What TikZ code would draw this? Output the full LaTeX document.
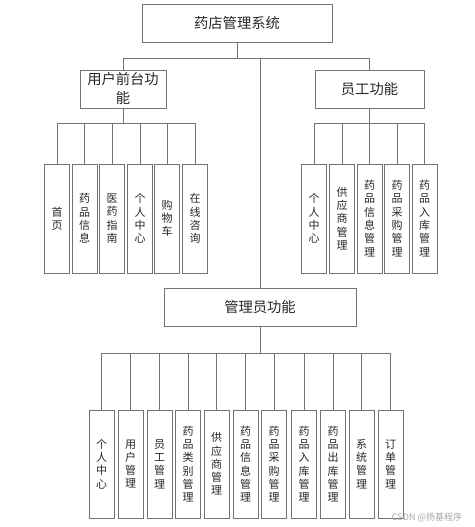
\documentclass[tikz,border=0pt]{standalone}
\usepackage{fontspec}
\setmainfont{Noto Sans CJK SC}
\begin{document}
\begin{tikzpicture}[x=1pt,y=1pt,
  line/.style={draw=black!55, line width=0.9pt},
  tbox/.style={draw=black!55, line width=0.9pt, minimum height=38pt, inner sep=0pt, align=center, font=\fontsize{14.3}{19}\selectfont, text=black!85},
  vbox/.style={draw=black!55, line width=0.9pt, minimum width=25pt, inner sep=0pt, align=center, font=\fontsize{11}{13.3}\selectfont, text=black!85},
  ubox/.style={vbox, minimum height=109pt},
  abox/.style={vbox, minimum height=108pt}]
\useasboundingbox (0,0) rectangle (474,-527);
% top level
\node[tbox, minimum width=190pt] (top) at (237,-23) {药店管理系统};
\node[tbox, minimum width=86pt] (user) at (123,-89) {用户前台功\\能};
\node[tbox, minimum width=109pt] (staff) at (369.5,-89) {员工功能};
\node[tbox, minimum width=192pt] (admin) at (260,-307) {管理员功能};
\coordinate (bus0) at (237,-58);
\draw[line] (top.south) -- (bus0);
\draw[line] (bus0) -| (user.north);
\draw[line] (bus0) -| (staff.north);
\draw[line] (bus0) -| (admin.north);
% user children
\node[ubox] (u1) at (57,-218.5) {首\\页};
\node[ubox] (u2) at (84.5,-218.5) {药\\品\\信\\息};
\node[ubox] (u3) at (112,-218.5) {医\\药\\指\\南};
\node[ubox] (u4) at (140,-218.5) {个\\人\\中\\心};
\node[ubox] (u5) at (167,-218.5) {购\\物\\车};
\node[ubox] (u6) at (195,-218.5) {在\\线\\咨\\询};
\foreach \c in {u1,u2,u3,u4,u5,u6}
  \draw[line] (user.south) -- ++(0,-15) -| (\c.north);
% staff children
\node[ubox] (s1) at (314,-218.5) {个\\人\\中\\心};
\node[ubox] (s2) at (342,-218.5) {供\\应\\商\\管\\理};
\node[ubox] (s3) at (369.5,-218.5) {药\\品\\信\\息\\管\\理};
\node[ubox] (s4) at (397,-218.5) {药\\品\\采\\购\\管\\理};
\node[ubox] (s5) at (424.5,-218.5) {药\\品\\入\\库\\管\\理};
\foreach \c in {s1,s2,s3,s4,s5}
  \draw[line] (staff.south) -- ++(0,-15) -| (\c.north);
% admin children
\node[abox] (a1) at (101.5,-464) {个\\人\\中\\心};
\node[abox] (a2) at (130.5,-464) {用\\户\\管\\理};
\node[abox] (a3) at (159.5,-464) {员\\工\\管\\理};
\node[abox] (a4) at (188,-464) {药\\品\\类\\别\\管\\理};
\node[abox] (a5) at (216.5,-464) {供\\应\\商\\管\\理};
\node[abox] (a6) at (245.5,-464) {药\\品\\信\\息\\管\\理};
\node[abox] (a7) at (274,-464) {药\\品\\采\\购\\管\\理};
\node[abox] (a8) at (304,-464) {药\\品\\入\\库\\管\\理};
\node[abox] (a9) at (333,-464) {药\\品\\出\\库\\管\\理};
\node[abox] (a10) at (361.5,-464) {系\\统\\管\\理};
\node[abox] (a11) at (390.5,-464) {订\\单\\管\\理};
\foreach \c in {a1,a2,a3,a4,a5,a6,a7,a8,a9,a10,a11}
  \draw[line] (admin.south) -- ++(0,-27) -| (\c.north);
% watermark
\node[font=\fontsize{9}{10}\selectfont, text=black!35, inner sep=0pt] (wm) at (427,-517) {CSDN @扬基程序};
\end{tikzpicture}
\end{document}
